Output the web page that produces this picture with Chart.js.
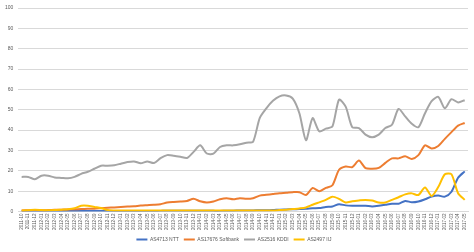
<!DOCTYPE html>
<html>
<head>
<meta charset="utf-8">
<script src="https://cdn.jsdelivr.net/npm/chart.js@4/dist/chart.umd.min.js"></script>
<style>
  html, body { margin: 0; padding: 0; background: #fff; }
  #wrap { width: 474px; height: 252px; position: relative; }
</style>
</head>
<body>
<div id="wrap"><canvas id="chart"></canvas></div>
<script>
// ----------------- Data -----------------
const months = [
    '2011-10','2011-11','2011-12','2012-01','2012-02','2012-03','2012-04','2012-05','2012-06','2012-07','2012-08','2012-09',
    '2012-10','2012-11','2012-12','2013-01','2013-02','2013-03','2013-04','2013-05','2013-06','2013-07','2013-08','2013-09',
    '2013-10','2013-11','2013-12','2014-01','2014-02','2014-03','2014-04','2014-05','2014-06','2014-07','2014-08','2014-09',
    '2014-10','2014-11','2014-12','2015-01','2015-02','2015-03','2015-04','2015-05','2015-06','2015-07','2015-08','2015-09',
    '2015-10','2015-11','2015-12','2016-01','2016-02','2016-03','2016-04','2016-05','2016-06','2016-07','2016-08','2016-09',
    '2016-10','2016-11','2016-12','2017-01','2017-02','2017-03','2017-04','2017-05'
];
const seriesNames = ['AS4713 NTT', 'AS17676 Softbank', 'AS2516 KDDI', 'AS2497 IIJ'];

const ntt = [
    0.2, 0.2, 0.2, 0.2, 0.2, 0.2, 0.2, 0.2, 0.2, 0.2, 0.2, 0.2,
    0.2, 0.2, 0.2, 0.2, 0.2, 0.2, 0.2, 0.2, 0.2, 0.3, 0.3, 0.3,
    0.3, 0.3, 0.3, 0.3, 0.3, 0.3, 0.3, 0.4, 0.4, 0.5, 0.5, 0.5,
    0.6, 0.6, 0.7, 0.9, 1.0, 1.1, 1.2, 1.3, 1.6, 1.7, 2.2, 2.5,
    3.6, 3.0, 2.8, 2.8, 2.8, 2.5, 2.8, 3.3, 3.8, 3.8, 5.2, 4.5,
    4.9, 6.0, 7.3, 7.8, 7.3, 9.7, 16.6, 19.7
];
const softbank = [
    0.5, 0.6, 0.7, 0.6, 0.7, 0.8, 0.9, 1.0, 1.1, 1.2, 1.3, 1.4,
    1.6, 1.8, 2.0, 2.2, 2.4, 2.6, 2.9, 3.1, 3.3, 3.6, 4.4, 4.7,
    4.9, 5.2, 6.2, 5.0, 4.4, 4.9, 6.0, 6.5, 6.0, 6.5, 6.2, 6.5,
    7.8, 8.2, 8.6, 9.0, 9.2, 9.5, 9.5, 8.1, 11.5, 10.0, 11.6, 12.9,
    20.5, 22.1, 21.8, 25.0, 21.3, 21.0, 21.4, 23.9, 26.1, 26.1, 27.1, 25.8,
    27.7, 32.5, 30.9, 32.2, 35.7, 39.0, 42.2, 43.5
];
const kddi = [
    17.0, 17.0, 15.8, 17.6, 17.6, 16.7, 16.5, 16.3, 17.0, 18.5, 19.5, 21.0,
    22.5, 22.5, 22.7, 23.5, 24.3, 24.6, 23.7, 24.6, 23.8, 26.2, 27.7, 27.4,
    26.9, 26.3, 29.3, 32.5, 28.5, 28.4, 31.7, 32.5, 32.5, 33.0, 33.8, 34.3,
    45.9, 50.7, 54.4, 56.6, 57.0, 55.5, 48.3, 35.0, 45.9, 39.4, 40.7, 41.8,
    55.0, 51.5, 41.4, 41.0, 37.8, 36.5, 37.8, 41.0, 42.6, 50.4, 46.7, 43.1,
    41.4, 48.3, 54.2, 56.3, 50.7, 55.2, 53.6, 54.7
];
const iij = [
    0.5, 0.6, 0.8, 0.7, 0.6, 0.7, 0.9, 1.1, 1.6, 2.8, 2.8, 2.2,
    1.7, 0.7, 0.5, 0.5, 0.5, 0.5, 0.5, 0.5, 0.5, 0.5, 0.5, 0.5,
    0.5, 0.5, 0.5, 0.5, 0.5, 0.5, 0.5, 0.5, 0.5, 0.5, 0.5, 0.5,
    0.5, 0.5, 0.5, 0.7, 0.9, 1.2, 1.5, 2.0, 3.3, 4.5, 5.7, 7.3,
    6.2, 4.4, 5.0, 5.4, 5.7, 5.4, 4.4, 4.4, 5.7, 7.0, 8.4, 8.9,
    8.1, 11.8, 7.6, 12.0, 18.3, 18.3, 9.0, 5.7
];
const yTicks = [0, 10, 20, 30, 40, 50, 60, 70, 80, 90, 100];

const colors = ['#4472C4', '#ED7D31', '#A5A5A5', '#FFC000'];
const seriesData = [ntt, softbank, kddi, iij];

// ----------------- Chart -----------------
const fontFamily = "'Liberation Sans', Arial, sans-serif";

new Chart(document.getElementById('chart'), {
    type: 'line',
    data: {
        labels: months,
        datasets: seriesData.map((d, i) => ({
            label: seriesNames[i],
            data: d,
            borderColor: colors[i],
            backgroundColor: colors[i],
            borderWidth: 2,
            pointRadius: 0,
            tension: 0.25,
            order: 3 - i  // later series on top, like the original
        }))
    },
    options: {
        responsive: true,
        maintainAspectRatio: false,
        animation: false,
        layout: { padding: { left: 0, right: 6, top: 2, bottom: 0 } },
        plugins: {
            legend: {
                position: 'bottom',
                labels: {
                    usePointStyle: true,
                    pointStyleWidth: 11,
                    pointStyle: 'line',
                    boxHeight: 5,
                    padding: 5,
                    color: '#595959',
                    font: { family: fontFamily, size: 5 },
                    sort: (a, b) => a.datasetIndex - b.datasetIndex
                }
            },
            tooltip: { enabled: false }
        },
        scales: {
            x: {
                offset: true,
                grid: { display: false, drawTicks: false },
                border: { color: '#d9d9d9' },
                ticks: {
                    autoSkip: false,
                    minRotation: 90,
                    maxRotation: 90,
                    padding: 2,
                    color: '#595959',
                    font: { family: fontFamily, size: 4.5 }
                }
            },
            y: {
                min: 0,
                max: 100,
                afterBuildTicks: axis => { axis.ticks = yTicks.map(v => ({ value: v })); },
                grid: { color: '#d9d9d9', drawTicks: false },
                border: { display: false },
                ticks: {
                    padding: 5,
                    color: '#595959',
                    font: { family: fontFamily, size: 5 }
                }
            }
        }
    }
});
</script>
</body>
</html>
